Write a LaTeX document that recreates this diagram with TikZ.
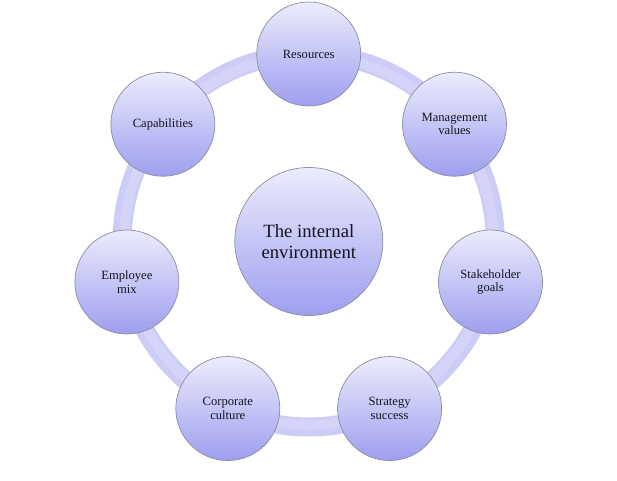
\documentclass[tikz,border=0pt]{standalone}
\usepackage{fontspec}
\setmainfont{Liberation Serif}
\usetikzlibrary{calc}
\begin{document}
\begin{tikzpicture}[x=1pt,y=1pt,
  ring/.style={draw=ringc, line width=19pt},
  ringhi/.style={draw=ringl, line width=10pt},
  bubble/.style={circle, minimum size=104pt, inner sep=0pt, align=center,
    top color=bubtop, bottom color=bubbot, draw=bubline, line width=0.7pt,
    text=txt, font=\fontsize{12.6}{13.4}\selectfont},
  hub/.style={bubble, minimum size=148pt, font=\fontsize{18.7}{20.5}\selectfont}]
\definecolor{ringc}{RGB}{204,204,247}
\definecolor{ringl}{RGB}{212,212,249}
\definecolor{bubtop}{RGB}{236,236,252}
\definecolor{bubbot}{RGB}{158,158,240}
\definecolor{bubline}{RGB}{140,140,160}
\definecolor{txt}{RGB}{20,20,30}
\useasboundingbox (0,0) rectangle (617,480);
\coordinate (c) at (308.7,239.5);
\draw[ring] (c) circle (186.5);
\draw[ringhi] (c) circle (184.5);
\node[hub] (hub) at (308.8,238.5) {The internal\\environment};
\node[bubble] (res) at ($(c)+(90:186.5)$) {Resources};
\node[bubble] (man) at ($(c)+(38.57:186.5)$) {Management\\values};
\node[bubble] (sta) at ($(c)+(-12.86:186.5)$) {Stakeholder\\goals};
\node[bubble] (str) at ($(c)+(-64.29:186.5)$) {Strategy\\success};
\node[bubble] (cor) at ($(c)+(-115.71:186.5)$) {Corporate\\culture};
\node[bubble] (emp) at ($(c)+(-167.14:186.5)$) {Employee\\mix};
\node[bubble] (cap) at ($(c)+(141.43:186.5)$) {Capabilities};
\end{tikzpicture}
\end{document}
